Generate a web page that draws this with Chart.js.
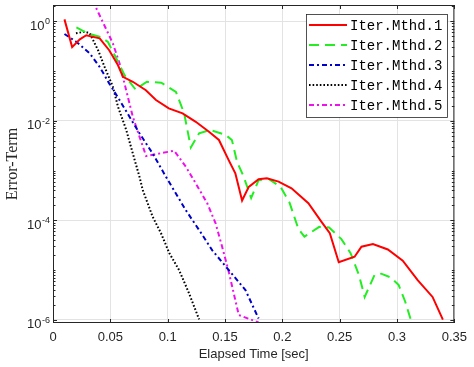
<!DOCTYPE html>
<html>
<head>
<meta charset="utf-8">
<script src="https://cdn.jsdelivr.net/npm/chart.js@4.4.1/dist/chart.umd.min.js"></script>
<style>
  body { margin: 0; background: #fff; }
  canvas { display: block; }
</style>
</head>
<body>
<canvas id="chart_err" width="474" height="367"></canvas>
<script>
// data (x = seconds, y = error)
var names = ["Iter.Mthd.1", "Iter.Mthd.2", "Iter.Mthd.3", "Iter.Mthd.4", "Iter.Mthd.5"];

var x1 = [0.01, 0.0167, 0.0234, 0.029, 0.0407, 0.049, 0.0566, 0.061, 0.0696, 0.081, 0.0898, 0.101, 0.113, 0.1245, 0.136, 0.1447, 0.1533, 0.159, 0.1649, 0.1707, 0.1793, 0.1865, 0.1967, 0.208, 0.2227, 0.234, 0.2414, 0.2492, 0.263, 0.269, 0.279, 0.292, 0.305, 0.318, 0.331, 0.340];
var y1 = [1.08, 0.30, 0.43, 0.52, 0.45, 0.26, 0.131, 0.076, 0.0605, 0.041, 0.026, 0.0177, 0.014, 0.0095, 0.006, 0.0041, 0.0016, 8.8e-4, 2.5e-4, 4.7e-4, 6.7e-4, 7.0e-4, 6.0e-4, 4.4e-4, 2.2e-4, 9.4e-5, 5.5e-5, 1.44e-5, 1.86e-5, 2.95e-5, 3.35e-5, 2.6e-5, 1.55e-5, 6.3e-6, 2.9e-6, 1.02e-6];

var x2 = [0.0204, 0.0299, 0.0416, 0.0479, 0.0546, 0.0624, 0.0719, 0.0819, 0.0944, 0.1072, 0.1144, 0.1202, 0.1274, 0.1369, 0.1505, 0.156, 0.1605, 0.1663, 0.1728, 0.1793, 0.188, 0.1984, 0.2062, 0.214, 0.2192, 0.2322, 0.2408, 0.2515, 0.2595, 0.2668, 0.2718, 0.2804, 0.2862, 0.2948, 0.3015, 0.3071, 0.3121, 0.3135];
var y2 = [0.75, 0.57, 0.48, 0.38, 0.19, 0.082, 0.0425, 0.0605, 0.058, 0.038, 0.014, 0.0029, 0.0056, 0.0065, 0.0052, 0.0041, 0.0015, 7.5e-4, 2.8e-4, 6.4e-4, 6.8e-4, 4.7e-4, 2.3e-4, 6.7e-5, 4.7e-5, 7.4e-5, 7.2e-5, 4.2e-5, 2.2e-5, 8e-6, 2.9e-6, 8e-6, 8.5e-6, 7.1e-6, 5e-6, 2.35e-6, 1e-6, 7e-7];

var x3 = [0.01, 0.0205, 0.032, 0.0407, 0.049, 0.058, 0.0667, 0.0754, 0.0869, 0.0985, 0.1158, 0.1274, 0.1389, 0.1533, 0.1678, 0.1793];
var y3 = [0.55, 0.38, 0.225, 0.12, 0.056, 0.026, 0.012, 0.0056, 0.0022, 7.5e-4, 1.6e-4, 6.4e-5, 2.5e-5, 1.0e-5, 4e-6, 1.07e-6];

var x4 = [0.02, 0.0277, 0.032, 0.0393, 0.045, 0.0522, 0.0567, 0.0639, 0.0696, 0.0754, 0.0782, 0.0869, 0.0942, 0.1014, 0.11, 0.1187, 0.1274];
var y4 = [0.57, 0.61, 0.57, 0.26, 0.12, 0.048, 0.019, 0.0065, 0.0022, 7.5e-4, 4.1e-4, 1.18e-4, 5.5e-5, 2.2e-5, 1e-5, 3.4e-6, 1.03e-6];

var x5 = [0.02, 0.03, 0.0364, 0.0522, 0.058, 0.0638, 0.0696, 0.0754, 0.0812, 0.1057, 0.1158, 0.1245, 0.1345, 0.1418, 0.1475, 0.1533, 0.162, 0.1793];
var y5 = [13, 4.3, 2.1, 0.357, 0.142, 0.041, 0.012, 0.0048, 0.00195, 0.0025, 0.0012, 5.5e-4, 2.2e-4, 8.7e-5, 2.95e-5, 9.2e-6, 1.26e-6, 8.9e-7];

var xTicks = [0, 0.05, 0.1, 0.15, 0.2, 0.25, 0.3, 0.35];
var yTicks = [1e-6, 1e-4, 1e-2, 1];
var yExp = ["-6", "-4", "-2", "0"];

const pts = (xs, ys) => xs.map((x, i) => ({ x: x, y: ys[i] }));

const axisColor = '#262626';

const mk = (label, data, color, dash) => ({
  label: label,
  data: data,
  borderColor: color,
  backgroundColor: color,
  borderWidth: 2,
  borderDash: dash,
  borderCapStyle: 'butt',
  pointRadius: 0,
  tension: 0,
  fill: false
});

const datasets = [
  mk(names[0], pts(x1, y1), '#ff0000', []),
  mk(names[1], pts(x2, y2), '#22ee22', [10, 6]),
  mk(names[2], pts(x3, y3), '#0000cc', [5, 3, 2, 3]),
  mk(names[3], pts(x4, y4), '#000000', [1.6, 2]),
  mk(names[4], pts(x5, y5), '#ee11ee', [5, 3, 2, 3])
];

// box, inward ticks, y labels, titles and legend (MATLAB look)
const matlabAxes = {
  id: 'matlabAxes',
  afterDatasetsDraw(chart) {
    const ctx = chart.ctx;
    const a = chart.chartArea;
    const xs = chart.scales.x, ys = chart.scales.y;
    ctx.save();
    ctx.strokeStyle = axisColor;
    ctx.lineWidth = 1;
    ctx.setLineDash([]);
    ctx.strokeRect(a.left + 0.5, a.top + 0.5, a.right - a.left - 1, a.bottom - a.top - 1);

    ctx.beginPath();
    xTicks.forEach(v => {
      const px = Math.round(xs.getPixelForValue(v)) + 0.5;
      ctx.moveTo(px, a.bottom); ctx.lineTo(px, a.bottom - 4);
      ctx.moveTo(px, a.top); ctx.lineTo(px, a.top + 4);
    });
    for (let k = -7; k <= 0; k++) {
      for (let m = 1; m <= 9; m++) {
        const v = m * Math.pow(10, k);
        if (v < ys.min || v > ys.max) continue;
        const py = Math.round(ys.getPixelForValue(v)) + 0.5;
        const len = (m === 1 && k % 2 === 0) ? 4 : 2.5;
        ctx.moveTo(a.left, py); ctx.lineTo(a.left + len, py);
        ctx.moveTo(a.right, py); ctx.lineTo(a.right - len, py);
      }
    }
    ctx.stroke();

    // y tick labels 10^k
    ctx.fillStyle = axisColor;
    ctx.textBaseline = 'alphabetic';
    yTicks.forEach((v, i) => {
      const py = ys.getPixelForValue(v);
      ctx.font = '9px "Liberation Sans", Arial, sans-serif';
      const ew = ctx.measureText(yExp[i]).width;
      ctx.textAlign = 'right';
      ctx.fillText(yExp[i], 50, py + 3);
      ctx.font = '13px "Liberation Sans", Arial, sans-serif';
      ctx.fillText('10', 50 - ew - 0.5, py + 8.5);
    });

    // axis titles
    ctx.textAlign = 'center';
    ctx.textBaseline = 'middle';
    ctx.font = '13px "Liberation Sans", Arial, sans-serif';
    ctx.fillText('Elapsed Time [sec]', (a.left + a.right) / 2, 354);
    ctx.save();
    ctx.translate(13, (a.top + a.bottom) / 2);
    ctx.rotate(-Math.PI / 2);
    ctx.font = '16px "Liberation Serif", "DejaVu Serif", serif';
    ctx.fillText('Error-Term', 0, 0);
    ctx.restore();

    // legend
    const lx = 306, ly = 14, lw = 141, lh = 103;
    ctx.fillStyle = '#fff';
    ctx.fillRect(lx, ly, lw, lh);
    ctx.strokeStyle = axisColor;
    ctx.lineWidth = 0.8;
    ctx.strokeRect(lx + 0.5, ly + 0.5, lw, lh);
    ctx.font = '14px "Liberation Mono", "DejaVu Sans Mono", monospace';
    ctx.textAlign = 'left';
    ctx.textBaseline = 'middle';
    chart.data.datasets.forEach((ds, i) => {
      const ry = ly + 11 + i * 20;
      ctx.strokeStyle = ds.borderColor;
      ctx.lineWidth = ds.borderWidth;
      ctx.setLineDash(ds.borderDash);
      ctx.beginPath();
      ctx.moveTo(309, ry); ctx.lineTo(347, ry);
      ctx.stroke();
      ctx.setLineDash([]);
      ctx.fillStyle = '#000';
      ctx.fillText(ds.label, 350, ry + 1);
    });
    ctx.restore();
  }
};

const options = {
  responsive: false,
  animation: false,
  devicePixelRatio: 1,
  layout: { padding: { left: 0, right: 17, top: 5, bottom: 0 } },
  plugins: { legend: { display: false }, tooltip: { enabled: false } },
  scales: {
    x: {
      type: 'linear',
      min: 0,
      max: 0.35,
      afterBuildTicks: s => { s.ticks = xTicks.map(v => ({ value: v })); },
      afterFit: s => { s.height = 44; },
      ticks: {
        padding: 7,
        color: axisColor,
        font: { family: '"Liberation Sans", Arial, sans-serif', size: 13 },
        maxRotation: 0,
        callback: v => String(parseFloat(v.toFixed(2)))
      },
      grid: { color: '#e3e3e3', drawTicks: false },
      border: { display: false }
    },
    y: {
      type: 'logarithmic',
      min: 8.7e-7,
      max: 2.1,
      afterBuildTicks: s => { s.ticks = yTicks.map(v => ({ value: v })); },
      afterFit: s => { s.width = 53; },
      ticks: { display: false },
      grid: { color: '#e3e3e3', drawTicks: false },
      border: { display: false }
    }
  }
};

var errCtx = document.getElementById('chart_err').getContext('2d');
var errChart = new Chart(errCtx, {
  type: 'line',
  data: { datasets: datasets },
  options: options,
  plugins: [matlabAxes]
});
</script>
</body>
</html>
